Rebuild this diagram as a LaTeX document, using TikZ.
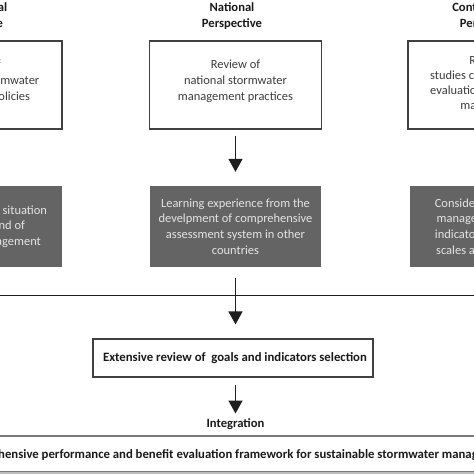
\documentclass[tikz,border=0pt]{standalone}
\usepackage{fontspec}
\setmainfont{Carlito}
\usetikzlibrary{arrows.meta}
\definecolor{boxline}{HTML}{404040}
\definecolor{grayfill}{HTML}{646464}
\definecolor{graytext}{HTML}{E4E4E4}
\definecolor{bodytext}{HTML}{3C3C3C}
\definecolor{headtext}{HTML}{1A1A1A}
\definecolor{arrowcol}{HTML}{1E1E1E}
\definecolor{bandtop}{HTML}{7A7A7A}
\definecolor{bandbot}{HTML}{BDBDBD}
\newlength\cutw
\begin{document}
\settowidth{\cutw}{\bfseries\fontsize{12.75}{15}\selectfont Compre}%
\begin{tikzpicture}[x=1pt,y=-1pt,
  whitebox/.style={draw=boxline, line width=1.2pt, fill=white, minimum width=172pt, minimum height=88pt, inner sep=0pt},
  bodytxt/.style={text=bodytext, align=center, inner sep=0pt, font=\fontsize{12.45}{16}\selectfont},
  graybox/.style={fill=grayfill, text=graytext, minimum width=171pt, minimum height=81pt, inner sep=0pt, align=center, font=\fontsize{12.45}{15.6}\selectfont},
  headtxt/.style={text=headtext, align=center, inner sep=0pt, font=\bfseries\fontsize{12.6}{16}\selectfont},
  extbox/.style={draw=boxline, line width=1.2pt, text=headtext, minimum width=280pt, minimum height=38pt, inner sep=0pt, font=\bfseries\fontsize{12.75}{15}\selectfont},
  band/.style={draw=bandtop, line width=1.5pt, fill=white, minimum width=700pt, minimum height=36pt, inner sep=0pt},
  conn/.style={draw=arrowcol, line width=1.5pt},
  arr/.style={conn, -{Triangle[width=14pt,length=13pt]}},
  hline/.style={draw=arrowcol, line width=1.8pt}
]
\useasboundingbox (0,0) rectangle (474,474);
\clip (0,0) rectangle (474,474);
\fill[white] (0,0) rectangle (474,474);

% headers
\node[headtxt] (h1) at (-27,16) {International\\Perspective};
\node[headtxt] (h2) at (232,16) {National\\Perspective};
\node[headtxt] (h3) at (490,16) {Contemporary\\Perspective};

% white boxes
\node[whitebox] (b1) at (-24,85) {};
\node[bodytxt] (t1) at (-24,81) {Review of\\international stormwater\\management policies};
\node[whitebox] (b2) at (235.5,85) {};
\node[bodytxt] (t2) at (235.5,81) {Review of\\national stormwater\\management practices};
\node[whitebox] (b3) at (494,85) {};
\node[bodytxt, font=\fontsize{12.45}{15}\selectfont] (t3) at (494,83.5) {Review of\\studies conducted on the\\evaluation of stormwater\\management};

% gray boxes
\node[graybox] (g1) at (-23.5,226.5) {Analysis of current situation\\and future trend of\\stormwater management};
\node[graybox] (g2) at (235.5,226.5) {Learning experience from the\\develpment of comprehensive\\assessment system in other\\countries};
\node[graybox] (g3) at (495.5,226.5) {Considering stormwater\\management goals and\\indicators with different\\scales and local context};

% extensive review box
\node[extbox] (e) at (233,358) {\hspace*{4pt}Extensive review of\ \ goals and indicators selection};

% integration
\node[headtxt, anchor=base] (int) at (235.5,427.5) {Integration};

% bottom band
\node[band] (fw) at (237,454) {};
\draw[bandbot, line width=2.5pt] (fw.south west) -- (fw.south east);
\node[anchor=base west, inner sep=0pt, xshift=-\cutw, text=headtext, font=\bfseries\fontsize{12.75}{15}\selectfont] (fwt) at (-2,458) {Comprehensive performance and benefit evaluation framework for sustainable stormwater management};

% connectors
\coordinate (hl) at (0,295.5);
\draw[hline] (g1.south |- hl) -- (g3.south |- hl);
\draw[arr, shorten <=6pt, shorten >=14pt] (b2.south) -- (b2.south |- g2.north);
\draw[arr, shorten <=11pt, shorten >=14pt] (g2.south) -- (g2.south |- e.north);
\draw[arr, shorten <=7pt, shorten >=6pt] (int.north |- e.south) -- ([yshift=8pt]int.base);
\end{tikzpicture}
\end{document}
